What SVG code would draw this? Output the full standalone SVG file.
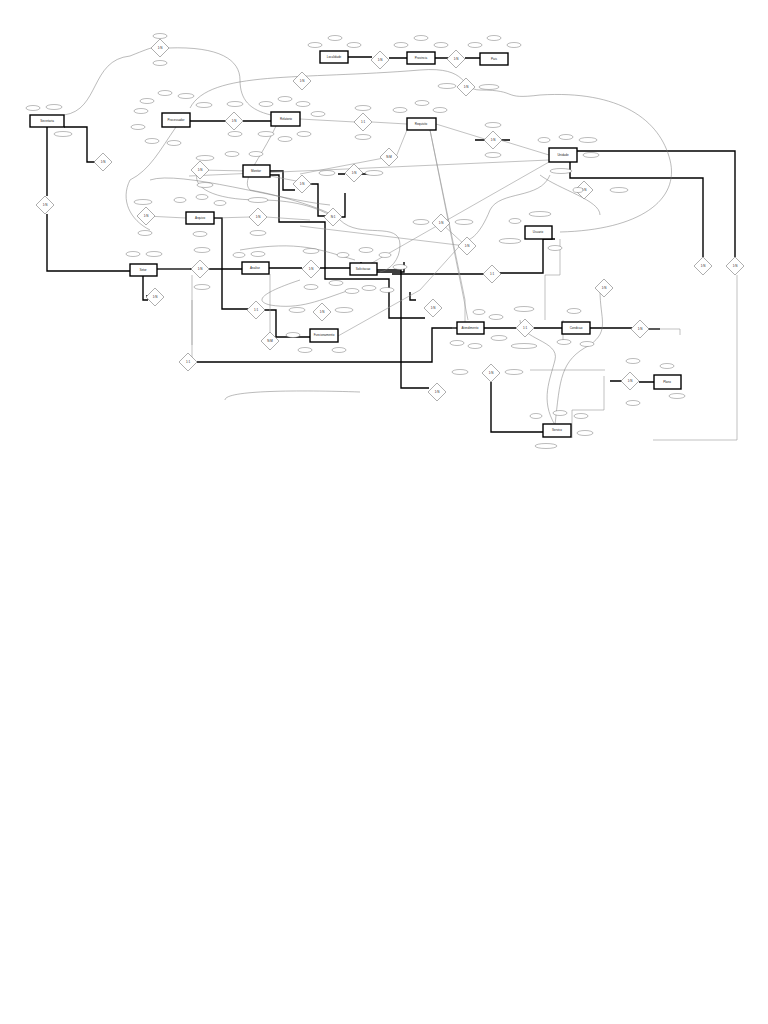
<svg xmlns="http://www.w3.org/2000/svg" width="768" height="1024" viewBox="0 0 768 1024">
<style>
.e{fill:#fff;stroke:#000;stroke-width:1.4}
.d{fill:#fff;stroke:#777;stroke-width:0.6}
.a{fill:#fff;stroke:#555;stroke-width:0.4}
.t{font-family:"Liberation Sans",Arial,sans-serif;font-size:3px;text-anchor:middle;fill:#222}
.k{fill:none;stroke:#000;stroke-width:1.4}
.g{fill:none;stroke:#999;stroke-width:0.6}
.c{fill:none;stroke:#777;stroke-width:0.5}
</style>
<rect width="768" height="1024" fill="#fff"/>
<g id="connectors">
<path class="k" d="M64,127H87V162H96M47,127V196M47,214V271H130M143,276V300H148"/>
<path class="k" d="M190,121H226M243,121H271M348,57H372M389,58H407M435,58H448M465,58H480"/>
<path class="k" d="M157,269H192M209,269H242M269,268H302M320,268H350"/>
<path class="k" d="M270,171H283V190H295M309,184H318V216H326M340,217H345V193M214,218H222V309H248M264,310H276V337H310"/>
<path class="k" d="M270,175H279V222H325V279H389V318H425M377,270H401V388H429M377,272H404V262"/>
<path class="k" d="M577,151H735V257M570,162V178H703V257M555,239H543V273H500M484,274H392"/>
<path class="k" d="M443,249 M457,328H432V362H197M484,328H516M534,328H562M590,328H632M648,329H660M654,382H639M491,382V432H543M622,381H610"/>
<path class="k" d="M146,296H162M356,174H370M338,174H345M480,252M361,268V262M410,292V300H416M475,140H487M500,140H510"/>
<path class="g" d="M157,269H190M192,275V362M192,300V345M270,274V350M361,268M452,328H465V300L430,130M466,246L441,223M436,124L488,140M500,140L549,155M300,119L355,122M372,122L407,124M189,176L549,160M363,268L549,162M338,336L420,290L465,240M210,269H192M545,320V275H560V239M563,320V340M647,329H680V335M653,440H737V275M572,438V410H604V376M530,370H605"/>
<path class="g" d="M300,226L466,246M389,157L300,174M396,157L407,130M430,130L468,320M200,170L248,171M146,216L186,218M214,218L250,217M266,217L310,220M312,184L270,176"/>
<path class="c" d="M64,115C100,110 90,60 130,56C145,50 150,48 152,48M168,48C220,46 240,60 240,80C240,100 250,110 271,115M190,108C210,70 300,80 420,70C470,66 460,90 480,90C520,90 500,100 540,95C620,90 660,120 670,160C680,200 640,230 560,232M176,127C160,150 150,170 130,180C120,200 130,220 150,230M276,126C260,160 240,180 250,190C280,195 330,210 340,220C360,240 400,220 400,245C400,260 390,270 380,272M200,170C190,180 200,200 260,200C300,200 320,210 330,215M550,175C540,200 500,190 490,210C480,235 470,240 467,240M540,175C560,190 600,200 600,215M300,280C270,290 250,300 270,305C300,310 320,300 350,290M520,320C520,340 560,340 555,360C550,380 540,400 555,425M600,290C600,320 610,330 590,345C560,360 560,380 555,425M225,400C225,390 300,390 360,392M240,250C300,240 320,250 355,260M150,180C180,170 280,200 330,205"/>
</g>
<g id="entities">
<g id="n1"><rect class="e" x="30" y="115" width="34" height="12"/><text class="t" x="47" y="122">Secretaria</text></g>
<g id="n2"><rect class="e" x="162" y="113" width="28" height="14"/><text class="t" x="176" y="121">Processador</text></g>
<g id="n3"><rect class="e" x="271" y="112" width="29" height="14"/><text class="t" x="286" y="120">Relatorio</text></g>
<g id="n4"><rect class="e" x="320" y="51" width="28" height="12"/><text class="t" x="334" y="58">Localidade</text></g>
<g id="n5"><rect class="e" x="407" y="52" width="28" height="12"/><text class="t" x="421" y="59">Provincia</text></g>
<g id="n6"><rect class="e" x="480" y="53" width="28" height="12"/><text class="t" x="494" y="60">Pais</text></g>
<g id="n7"><rect class="e" x="407" y="118" width="29" height="12"/><text class="t" x="421" y="125">Requisito</text></g>
<g id="n8"><rect class="e" x="549" y="148" width="28" height="14"/><text class="t" x="563" y="156">Unidade</text></g>
<g id="n9"><rect class="e" x="243" y="165" width="27" height="12"/><text class="t" x="256" y="172">Monitor</text></g>
<g id="n10"><rect class="e" x="186" y="212" width="28" height="12"/><text class="t" x="200" y="219">Arquivo</text></g>
<g id="n11"><rect class="e" x="130" y="264" width="27" height="12"/><text class="t" x="143" y="271">Setor</text></g>
<g id="n12"><rect class="e" x="242" y="262" width="27" height="12"/><text class="t" x="255" y="269">Analise</text></g>
<g id="n13"><rect class="e" x="350" y="263" width="27" height="12"/><text class="t" x="363" y="270">Solicitacao</text></g>
<g id="n14"><rect class="e" x="525" y="226" width="27" height="13"/><text class="t" x="538" y="233">Usuario</text></g>
<g id="n15"><rect class="e" x="310" y="329" width="28" height="13"/><text class="t" x="324" y="336">Funcionamento</text></g>
<g id="n16"><rect class="e" x="457" y="322" width="27" height="12"/><text class="t" x="470" y="329">Atendimento</text></g>
<g id="n17"><rect class="e" x="562" y="322" width="28" height="12"/><text class="t" x="576" y="329">Condicao</text></g>
<g id="n18"><rect class="e" x="654" y="375" width="27" height="14"/><text class="t" x="667" y="383">Plano</text></g>
<g id="n19"><rect class="e" x="543" y="424" width="28" height="13"/><text class="t" x="557" y="431">Servico</text></g>
</g>
<g id="relations">
<g id="r1"><path class="d" d="M160,39L169,48L160,57L151,48Z"/><text class="t" x="160" y="49">1:N</text></g>
<g id="r2"><path class="d" d="M103,153L112,162L103,171L94,162Z"/><text class="t" x="103" y="163">1:N</text></g>
<g id="r3"><path class="d" d="M45,196L54,205L45,214L36,205Z"/><text class="t" x="45" y="206">1:N</text></g>
<g id="r4"><path class="d" d="M234,112L243,121L234,130L225,121Z"/><text class="t" x="234" y="122">1:N</text></g>
<g id="r5"><path class="d" d="M302,72L311,81L302,90L293,81Z"/><text class="t" x="302" y="82">1:N</text></g>
<g id="r6"><path class="d" d="M380,51L389,60L380,69L371,60Z"/><text class="t" x="380" y="61">1:N</text></g>
<g id="r7"><path class="d" d="M456,50L465,59L456,68L447,59Z"/><text class="t" x="456" y="60">1:N</text></g>
<g id="r8"><path class="d" d="M466,78L475,87L466,96L457,87Z"/><text class="t" x="466" y="88">1:N</text></g>
<g id="r9"><path class="d" d="M363,113L372,122L363,131L354,122Z"/><text class="t" x="363" y="123">1:1</text></g>
<g id="r10"><path class="d" d="M493,131L502,140L493,149L484,140Z"/><text class="t" x="493" y="141">1:N</text></g>
<g id="r11"><path class="d" d="M389,148L398,157L389,166L380,157Z"/><text class="t" x="389" y="158">N:M</text></g>
<g id="r12"><path class="d" d="M200,161L209,170L200,179L191,170Z"/><text class="t" x="200" y="171">1:N</text></g>
<g id="r13"><path class="d" d="M146,207L155,216L146,225L137,216Z"/><text class="t" x="146" y="217">1:N</text></g>
<g id="r14"><path class="d" d="M258,208L267,217L258,226L249,217Z"/><text class="t" x="258" y="218">1:N</text></g>
<g id="r15"><path class="d" d="M354,164L363,173L354,182L345,173Z"/><text class="t" x="354" y="174">1:N</text></g>
<g id="r16"><path class="d" d="M302,175L311,184L302,193L293,184Z"/><text class="t" x="302" y="185">1:N</text></g>
<g id="r17"><path class="d" d="M333,208L342,217L333,226L324,217Z"/><text class="t" x="333" y="218">N:1</text></g>
<g id="r18"><path class="d" d="M584,181L593,190L584,199L575,190Z"/><text class="t" x="584" y="191">1:N</text></g>
<g id="r19"><path class="d" d="M441,214L450,223L441,232L432,223Z"/><text class="t" x="441" y="224">1:N</text></g>
<g id="r20"><path class="d" d="M467,237L476,246L467,255L458,246Z"/><text class="t" x="467" y="247">1:N</text></g>
<g id="r21"><path class="d" d="M492,265L501,274L492,283L483,274Z"/><text class="t" x="492" y="275">1:1</text></g>
<g id="r22"><path class="d" d="M604,279L613,288L604,297L595,288Z"/><text class="t" x="604" y="289">1:N</text></g>
<g id="r23"><path class="d" d="M703,257L712,266L703,275L694,266Z"/><text class="t" x="703" y="267">1:N</text></g>
<g id="r24"><path class="d" d="M735,257L744,266L735,275L726,266Z"/><text class="t" x="735" y="267">1:N</text></g>
<g id="r25"><path class="d" d="M200,260L209,269L200,278L191,269Z"/><text class="t" x="200" y="270">1:N</text></g>
<g id="r26"><path class="d" d="M311,260L320,269L311,278L302,269Z"/><text class="t" x="311" y="270">1:N</text></g>
<g id="r27"><path class="d" d="M155,288L164,297L155,306L146,297Z"/><text class="t" x="155" y="298">1:N</text></g>
<g id="r28"><path class="d" d="M256,301L265,310L256,319L247,310Z"/><text class="t" x="256" y="311">1:1</text></g>
<g id="r29"><path class="d" d="M270,332L279,341L270,350L261,341Z"/><text class="t" x="270" y="342">N:M</text></g>
<g id="r30"><path class="d" d="M322,303L331,312L322,321L313,312Z"/><text class="t" x="322" y="313">1:N</text></g>
<g id="r31"><path class="d" d="M433,299L442,308L433,317L424,308Z"/><text class="t" x="433" y="309">1:N</text></g>
<g id="r32"><path class="d" d="M437,383L446,392L437,401L428,392Z"/><text class="t" x="437" y="393">1:N</text></g>
<g id="r33"><path class="d" d="M491,364L500,373L491,382L482,373Z"/><text class="t" x="491" y="374">1:N</text></g>
<g id="r34"><path class="d" d="M525,319L534,328L525,337L516,328Z"/><text class="t" x="525" y="329">1:1</text></g>
<g id="r35"><path class="d" d="M640,320L649,329L640,338L631,329Z"/><text class="t" x="640" y="330">1:N</text></g>
<g id="r36"><path class="d" d="M630,372L639,381L630,390L621,381Z"/><text class="t" x="630" y="382">1:N</text></g>
<g id="r37"><path class="d" d="M188,353L197,362L188,371L179,362Z"/><text class="t" x="188" y="363">1:1</text></g>
</g>
<g id="attributes">
<ellipse class="a" cx="33" cy="108" rx="7" ry="2.5"/><ellipse class="a" cx="54" cy="107" rx="8" ry="2.5"/><ellipse class="a" cx="63" cy="134" rx="9" ry="2.5"/>
<ellipse class="a" cx="160" cy="36" rx="7" ry="2.5"/><ellipse class="a" cx="160" cy="63" rx="7" ry="2.5"/>
<ellipse class="a" cx="165" cy="93" rx="7" ry="2.5"/><ellipse class="a" cx="147" cy="101" rx="7" ry="2.5"/><ellipse class="a" cx="186" cy="96" rx="8" ry="2.5"/><ellipse class="a" cx="141" cy="111" rx="7" ry="2.5"/><ellipse class="a" cx="138" cy="127" rx="7" ry="2.5"/><ellipse class="a" cx="152" cy="141" rx="7" ry="2.5"/><ellipse class="a" cx="174" cy="143" rx="7" ry="2.5"/><ellipse class="a" cx="204" cy="105" rx="8" ry="2.5"/>
<ellipse class="a" cx="235" cy="104" rx="8" ry="2.5"/><ellipse class="a" cx="235" cy="134" rx="7" ry="2.5"/>
<ellipse class="a" cx="266" cy="104" rx="7" ry="2.5"/><ellipse class="a" cx="285" cy="99" rx="7" ry="2.5"/><ellipse class="a" cx="303" cy="104" rx="7" ry="2.5"/><ellipse class="a" cx="318" cy="114" rx="7" ry="2.5"/><ellipse class="a" cx="266" cy="134" rx="8" ry="2.5"/><ellipse class="a" cx="285" cy="139" rx="7" ry="2.5"/><ellipse class="a" cx="304" cy="134" rx="7" ry="2.5"/>
<ellipse class="a" cx="315" cy="45" rx="7" ry="2.5"/><ellipse class="a" cx="335" cy="38" rx="7" ry="2.5"/><ellipse class="a" cx="354" cy="45" rx="7" ry="2.5"/>
<ellipse class="a" cx="401" cy="45" rx="7" ry="2.5"/><ellipse class="a" cx="421" cy="38" rx="7" ry="2.5"/><ellipse class="a" cx="441" cy="45" rx="7" ry="2.5"/>
<ellipse class="a" cx="475" cy="45" rx="7" ry="2.5"/><ellipse class="a" cx="494" cy="38" rx="7" ry="2.5"/><ellipse class="a" cx="514" cy="45" rx="7" ry="2.5"/>
<ellipse class="a" cx="447" cy="86" rx="9" ry="2.5"/><ellipse class="a" cx="489" cy="87" rx="10" ry="2.5"/>
<ellipse class="a" cx="363" cy="108" rx="8" ry="2.5"/><ellipse class="a" cx="363" cy="137" rx="8" ry="2.5"/>
<ellipse class="a" cx="400" cy="110" rx="7" ry="2.5"/><ellipse class="a" cx="422" cy="103" rx="7" ry="2.5"/><ellipse class="a" cx="440" cy="110" rx="7" ry="2.5"/>
<ellipse class="a" cx="493" cy="125" rx="8" ry="2.5"/><ellipse class="a" cx="493" cy="155" rx="8" ry="2.5"/>
<ellipse class="a" cx="544" cy="140" rx="6" ry="2.5"/><ellipse class="a" cx="566" cy="137" rx="7" ry="2.5"/><ellipse class="a" cx="588" cy="140" rx="9" ry="2.5"/><ellipse class="a" cx="591" cy="155" rx="8" ry="2.5"/><ellipse class="a" cx="561" cy="171" rx="11" ry="2.5"/><ellipse class="a" cx="578" cy="190" rx="5" ry="2.5"/><ellipse class="a" cx="619" cy="190" rx="9" ry="2.5"/>
<ellipse class="a" cx="232" cy="154" rx="7" ry="2.5"/><ellipse class="a" cx="256" cy="154" rx="7" ry="2.5"/><ellipse class="a" cx="205" cy="158" rx="9" ry="2.5"/><ellipse class="a" cx="205" cy="185" rx="8" ry="2.5"/>
<ellipse class="a" cx="327" cy="173" rx="8" ry="2.5"/><ellipse class="a" cx="374" cy="173" rx="9" ry="2.5"/>
<ellipse class="a" cx="143" cy="202" rx="9" ry="2.5"/><ellipse class="a" cx="145" cy="233" rx="7" ry="2.5"/><ellipse class="a" cx="180" cy="200" rx="6" ry="2.5"/><ellipse class="a" cx="202" cy="197" rx="6" ry="2.5"/><ellipse class="a" cx="220" cy="203" rx="6" ry="2.5"/><ellipse class="a" cx="200" cy="234" rx="7" ry="2.5"/>
<ellipse class="a" cx="258" cy="200" rx="10" ry="2.5"/><ellipse class="a" cx="258" cy="233" rx="8" ry="2.5"/>
<ellipse class="a" cx="133" cy="254" rx="7" ry="2.5"/><ellipse class="a" cx="154" cy="254" rx="8" ry="2.5"/>
<ellipse class="a" cx="202" cy="250" rx="8" ry="2.5"/><ellipse class="a" cx="202" cy="287" rx="8" ry="2.5"/>
<ellipse class="a" cx="239" cy="255" rx="6" ry="2.5"/><ellipse class="a" cx="258" cy="254" rx="7" ry="2.5"/>
<ellipse class="a" cx="311" cy="251" rx="8" ry="2.5"/><ellipse class="a" cx="311" cy="287" rx="7" ry="2.5"/>
<ellipse class="a" cx="343" cy="255" rx="6" ry="2.5"/><ellipse class="a" cx="366" cy="250" rx="7" ry="2.5"/><ellipse class="a" cx="385" cy="255" rx="6" ry="2.5"/><ellipse class="a" cx="400" cy="267" rx="7" ry="2.5"/><ellipse class="a" cx="336" cy="283" rx="7" ry="2.5"/><ellipse class="a" cx="352" cy="291" rx="7" ry="2.5"/><ellipse class="a" cx="369" cy="288" rx="7" ry="2.5"/><ellipse class="a" cx="387" cy="290" rx="7" ry="2.5"/>
<ellipse class="a" cx="421" cy="222" rx="8" ry="2.5"/><ellipse class="a" cx="464" cy="222" rx="9" ry="2.5"/>
<ellipse class="a" cx="515" cy="221" rx="6" ry="2.5"/><ellipse class="a" cx="540" cy="214" rx="11" ry="2.5"/><ellipse class="a" cx="510" cy="241" rx="11" ry="2.5"/><ellipse class="a" cx="555" cy="248" rx="7" ry="2.5"/>
<ellipse class="a" cx="297" cy="310" rx="8" ry="2.5"/><ellipse class="a" cx="344" cy="310" rx="9" ry="2.5"/><ellipse class="a" cx="293" cy="335" rx="7" ry="2.5"/><ellipse class="a" cx="305" cy="350" rx="7" ry="2.5"/><ellipse class="a" cx="339" cy="350" rx="7" ry="2.5"/>
<ellipse class="a" cx="479" cy="312" rx="6" ry="2.5"/><ellipse class="a" cx="496" cy="317" rx="7" ry="2.5"/><ellipse class="a" cx="457" cy="343" rx="7" ry="2.5"/><ellipse class="a" cx="475" cy="346" rx="7" ry="2.5"/><ellipse class="a" cx="499" cy="338" rx="8" ry="2.5"/>
<ellipse class="a" cx="524" cy="309" rx="10" ry="2.5"/><ellipse class="a" cx="524" cy="346" rx="13" ry="2.5"/>
<ellipse class="a" cx="574" cy="311" rx="7" ry="2.5"/><ellipse class="a" cx="564" cy="342" rx="7" ry="2.5"/><ellipse class="a" cx="587" cy="344" rx="7" ry="2.5"/>
<ellipse class="a" cx="460" cy="372" rx="8" ry="2.5"/><ellipse class="a" cx="514" cy="372" rx="9" ry="2.5"/>
<ellipse class="a" cx="633" cy="361" rx="7" ry="2.5"/><ellipse class="a" cx="633" cy="403" rx="7" ry="2.5"/><ellipse class="a" cx="667" cy="366" rx="7" ry="2.5"/><ellipse class="a" cx="677" cy="396" rx="8" ry="2.5"/>
<ellipse class="a" cx="536" cy="416" rx="6" ry="2.5"/><ellipse class="a" cx="560" cy="413" rx="7" ry="2.5"/><ellipse class="a" cx="581" cy="416" rx="7" ry="2.5"/><ellipse class="a" cx="585" cy="433" rx="8" ry="2.5"/><ellipse class="a" cx="546" cy="446" rx="11" ry="2.5"/>
</g>
</svg>
